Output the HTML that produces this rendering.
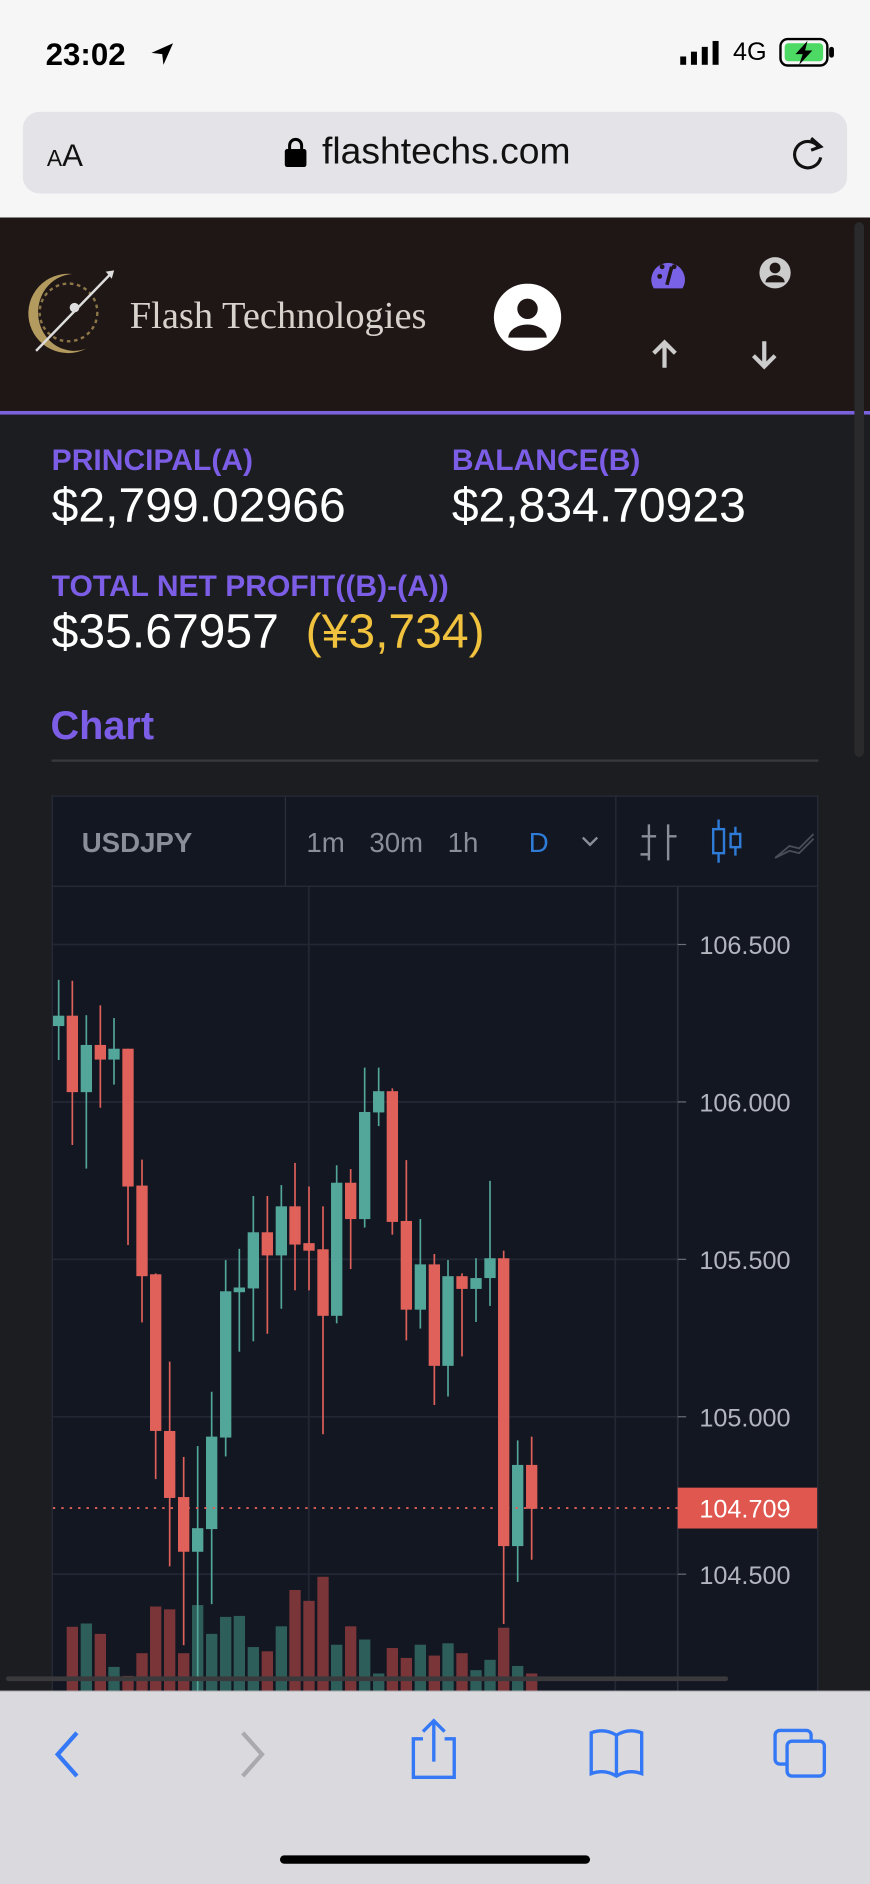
<!DOCTYPE html>
<html><head><meta charset="utf-8">
<style>
html,body{margin:0;padding:0;background:#1c1d20;}
body{width:870px;height:1884px;overflow:hidden;position:relative;}
#w{position:absolute;left:0;top:0;width:724px;height:1568px;transform:scale(1.20166);transform-origin:0 0;font-family:"Liberation Sans",sans-serif;background:#1c1d20;overflow:hidden;}
.a{position:absolute;white-space:nowrap;}
</style></head><body><div id="w">
<!-- top browser chrome -->
<div class="a" style="left:0;top:0;width:724px;height:181px;background:#f6f6f7;"></div>
<div class="a" style="left:38px;top:30px;font-size:26px;font-weight:bold;color:#000;">23:02</div>
<svg class="a" style="left:124px;top:34px" width="22" height="22" viewBox="0 0 22 22"><path d="M20 2 L2 10 L11 11 L12 20 Z" fill="#000"/></svg>
<svg class="a" style="left:566px;top:34px" width="34" height="20"><rect x="0" y="13" width="5" height="7" fill="#000"/><rect x="9" y="9" width="5" height="11" fill="#000"/><rect x="18" y="5" width="5" height="15" fill="#000"/><rect x="27" y="0" width="5" height="20" fill="#000"/></svg>
<div class="a" style="left:610px;top:32px;font-size:21px;color:#000;">4G</div>
<svg class="a" style="left:648px;top:31px" width="48" height="26"><rect x="1.5" y="1.5" width="39" height="22" rx="6" fill="none" stroke="#000" stroke-width="2"/><rect x="5" y="5" width="32" height="15" rx="3" fill="#4cd964"/><rect x="42" y="8" width="4" height="9" rx="2" fill="#000"/><path d="M24 3 L14 14 L20 14 L17 23 L28 11 L22 11 Z" fill="#000"/></svg>
<div class="a" style="left:19px;top:93px;width:686px;height:68px;border-radius:14px;background:#e3e3e8;"></div>
<div class="a" style="left:39px;top:114px;font-size:26px;color:#111;"><span style="font-size:19px">A</span>A</div>
<svg class="a" style="left:236px;top:113px" width="20" height="28"><rect x="1" y="11" width="18" height="15" rx="2" fill="#000"/><path d="M5 12 V8 a5 5 0 0 1 10 0 V12" fill="none" stroke="#000" stroke-width="2.5"/></svg>
<div class="a" style="left:268px;top:108px;font-size:31px;color:#111;">flashtechs.com</div>
<svg class="a" style="left:655px;top:111px" width="34" height="36"><path d="M26 11 A11 11 0 1 0 28 20" fill="none" stroke="#111" stroke-width="2.6"/><path d="M20 4 L28 11 L20 14" fill="none" stroke="#111" stroke-width="2.6"/></svg>
<!-- header -->
<div class="a" style="left:0;top:181px;width:724px;height:162px;background:#1f1716;"></div>
<div class="a" style="left:0;top:342px;width:724px;height:3px;background:#7a62dc;"></div>
<div class="a" style="left:711px;top:185px;width:8px;height:445px;background:#2a2a2c;border-radius:4px;"></div>
<svg class="a" style="left:20px;top:220px" width="80" height="80"><path d="M40 8 A33 33 0 1 0 52 70 A30 32 0 1 1 40 8 Z" fill="#b39a5e"/><circle cx="37" cy="40" r="24" fill="none" stroke="#8c7648" stroke-width="2" stroke-dasharray="3 3"/><path d="M10 72 L72 8" stroke="#ddd" stroke-width="2"/><path d="M68 6 L75 5 L73 12 Z" fill="#ddd"/><circle cx="42" cy="36" r="4" fill="#ddd"/></svg>
<div class="a" style="left:108px;top:244px;font-size:32px;color:#d8d2cc;font-family:'Liberation Serif',serif;">Flash Technologies</div>
<svg class="a" style="left:539px;top:212px" width="34" height="30"><path d="M5 28 A14 14 0 1 1 29 28 Z" fill="#7a62e6"/><circle cx="10" cy="18" r="2" fill="#1f1716"/><circle cx="12" cy="10" r="2" fill="#1f1716"/><circle cx="22" cy="10" r="2" fill="#1f1716"/><path d="M16 25 L20 10" stroke="#1f1716" stroke-width="3"/></svg>
<svg class="a" style="left:410px;top:236px" width="58" height="56"><circle cx="29" cy="28" r="28" fill="#fff"/><circle cx="29" cy="21" r="8.5" fill="#1f1716"/><path d="M13 45 A16 11 0 0 1 45 45 Z" fill="#1f1716"/></svg>
<svg class="a" style="left:631px;top:213px" width="28" height="28"><circle cx="14" cy="14" r="13" fill="#ccc"/><circle cx="14" cy="10" r="4.5" fill="#1f1716"/><path d="M6 22 A8 6 0 0 1 22 22 Z" fill="#1f1716"/></svg>
<svg class="a" style="left:540px;top:282px" width="26" height="26"><path d="M13 24 V4 M4 12 L13 3 L22 12" stroke="#ccc" stroke-width="3.5" fill="none"/></svg>
<svg class="a" style="left:623px;top:282px" width="26" height="26"><path d="M13 2 V22 M4 14 L13 23 L22 14" stroke="#ccc" stroke-width="3.5" fill="none"/></svg>
<!-- stats -->
<div class="a" style="left:43px;top:369px;font-size:25px;font-weight:bold;color:#7c5ee6;">PRINCIPAL(A)</div>
<div class="a" style="left:376px;top:369px;font-size:25px;font-weight:bold;color:#7c5ee6;">BALANCE(B)</div>
<div class="a" style="left:43px;top:399px;font-size:40px;color:#fff;">$2,799.02966</div>
<div class="a" style="left:376px;top:399px;font-size:40px;color:#fff;">$2,834.70923</div>
<div class="a" style="left:43px;top:474px;font-size:25px;font-weight:bold;color:#7c5ee6;">TOTAL NET PROFIT((B)-(A))</div>
<div class="a" style="left:43px;top:504px;font-size:40px;color:#fff;">$35.67957 <span style="color:#f0c23e;">&nbsp;(¥3,734)</span></div>
<div class="a" style="left:42px;top:585px;font-size:33px;font-weight:bold;color:#7c5ee6;">Chart</div>
<div class="a" style="left:43px;top:632px;width:638px;height:2px;background:#38393d;"></div>
<!-- chart widget -->
<div class="a" style="left:43px;top:662px;width:636px;height:760px;background:#131722;border:1px solid #2a2e39;"></div>
<div class="a" style="left:44px;top:737px;width:636px;height:1px;background:#2a2e39;"></div>
<div class="a" style="left:237px;top:663px;width:1px;height:74px;background:#2a2e39;"></div>
<div class="a" style="left:512px;top:663px;width:1px;height:74px;background:#2a2e39;"></div>
<div class="a" style="left:68px;top:688px;font-size:23px;font-weight:bold;color:#8a8e99;">USDJPY</div>
<div class="a" style="left:255px;top:688px;font-size:23px;color:#8a8e99;word-spacing:14px;">1m 30m 1h</div>
<div class="a" style="left:440px;top:688px;font-size:23px;color:#2f7bd8;">D</div>
<svg class="a" style="left:483px;top:694px" width="16" height="12"><path d="M2 3 L8 9 L14 3" stroke="#8a8e99" stroke-width="2" fill="none"/></svg>
<svg class="a" style="left:530px;top:682px" width="36" height="38"><path d="M10 4 V34 M3 29 H10 M26 4 V34 M26 14 H33 M4 14 H16" stroke="#8a8e99" stroke-width="2" fill="none"/></svg>
<svg class="a" style="left:590px;top:680px" width="32" height="40"><path d="M8 2 V38" stroke="#2f7bd8" stroke-width="2"/><rect x="3.5" y="10" width="9" height="20" fill="#131722" stroke="#2f7bd8" stroke-width="2"/><path d="M22 8 V32" stroke="#2f7bd8" stroke-width="2"/><rect x="18" y="14" width="8" height="11" fill="#131722" stroke="#2f7bd8" stroke-width="2"/></svg>
<svg class="a" style="left:643px;top:690px" width="36" height="26"><path d="M2 24 L14 14 L22 16 L34 4" stroke="#4a4e59" stroke-width="1.5" fill="none"/><path d="M2 24 L14 18 L22 20 L34 8" stroke="#4a4e59" stroke-width="1.5" fill="none"/></svg>
<svg class="a" style="left:0;top:0" width="724" height="1568">
<defs><clipPath id="c"><rect x="44" y="738" width="520" height="670"/></clipPath></defs>
<g stroke="#232734" stroke-width="1.5">
<line x1="44" y1="786" x2="564" y2="786"/><line x1="44" y1="917" x2="564" y2="917"/><line x1="44" y1="1048" x2="564" y2="1048"/><line x1="44" y1="1179" x2="564" y2="1179"/><line x1="44" y1="1310" x2="564" y2="1310"/>
<line x1="257" y1="738" x2="257" y2="1410"/><line x1="512" y1="738" x2="512" y2="1410"/>
</g>
<line x1="564" y1="738" x2="564" y2="1410" stroke="#2a2e39" stroke-width="1.5"/>
<g stroke="#6a6e79" stroke-width="1"><line x1="564" y1="786" x2="571" y2="786"/><line x1="564" y1="917" x2="571" y2="917"/><line x1="564" y1="1048" x2="571" y2="1048"/><line x1="564" y1="1179" x2="571" y2="1179"/><line x1="564" y1="1310" x2="571" y2="1310"/></g>
<g font-family="Liberation Sans, sans-serif" font-size="21" fill="#b2b5be">
<text x="582" y="794">106.500</text><text x="582" y="925">106.000</text><text x="582" y="1056">105.500</text><text x="582" y="1187">105.000</text><text x="582" y="1318">104.500</text></g>
<g clip-path="url(#c)"><g transform="translate(33.29,798.9) scale(0.2774,0.3927)">
<g fill="#7a3539">
<rect x="80" y="1413" width="34" height="160"/><rect x="164" y="1428" width="34" height="160"/><rect x="247" y="1517" width="34" height="160"/><rect x="289" y="1469" width="34" height="160"/><rect x="330" y="1370" width="34" height="220"/><rect x="372" y="1376" width="34" height="220"/><rect x="414" y="1469" width="34" height="160"/><rect x="665" y="1465" width="34" height="160"/><rect x="748" y="1335" width="34" height="260"/><rect x="790" y="1358" width="34" height="260"/><rect x="832" y="1307" width="34" height="260"/><rect x="915" y="1412" width="34" height="160"/><rect x="1040" y="1458" width="34" height="160"/><rect x="1082" y="1479" width="34" height="160"/><rect x="1166" y="1474" width="34" height="160"/><rect x="1249" y="1469" width="34" height="160"/><rect x="1374" y="1415" width="34" height="160"/><rect x="1458" y="1512" width="34" height="160"/>
</g>
<g fill="#2e5e5a">
<rect x="122" y="1406" width="34" height="160"/><rect x="205" y="1498" width="34" height="160"/><rect x="456" y="1367" width="34" height="220"/><rect x="498" y="1428" width="34" height="160"/><rect x="540" y="1392" width="34" height="160"/><rect x="581" y="1390" width="34" height="160"/><rect x="623" y="1456" width="34" height="160"/><rect x="707" y="1412" width="34" height="160"/><rect x="873" y="1451" width="34" height="160"/><rect x="957" y="1440" width="34" height="160"/><rect x="999" y="1512" width="34" height="160"/><rect x="1124" y="1451" width="34" height="160"/><rect x="1207" y="1448" width="34" height="160"/><rect x="1291" y="1505" width="34" height="160"/><rect x="1333" y="1483" width="34" height="160"/><rect x="1416" y="1496" width="34" height="160"/>
</g>
<g fill="#53a69a">
<rect x="53.5" y="42" width="5" height="170"/><rect x="39" y="118" width="34" height="22"/>
<rect x="136.5" y="117" width="5" height="325"/><rect x="122" y="180" width="34" height="100"/>
<rect x="219.5" y="123" width="5" height="141"/><rect x="205" y="188" width="34" height="23"/>
<rect x="470.5" y="1030" width="5" height="520"/><rect x="456" y="1204" width="34" height="50"/>
<rect x="512.5" y="915" width="5" height="450"/><rect x="498" y="1010" width="34" height="196"/>
<rect x="554.5" y="636" width="5" height="416"/><rect x="540" y="702" width="34" height="310"/>
<rect x="595.5" y="612" width="5" height="218"/><rect x="581" y="694" width="34" height="10"/>
<rect x="637.5" y="500" width="5" height="308"/><rect x="623" y="577" width="34" height="119"/>
<rect x="721.5" y="477" width="5" height="262"/><rect x="707" y="522" width="34" height="104"/>
<rect x="887.5" y="435" width="5" height="335"/><rect x="873" y="472" width="34" height="282"/>
<rect x="971.5" y="228" width="5" height="339"/><rect x="957" y="322" width="34" height="227"/>
<rect x="1013.5" y="228" width="5" height="124"/><rect x="999" y="278" width="34" height="45"/>
<rect x="1138.5" y="549" width="5" height="232"/><rect x="1124" y="645" width="34" height="96"/>
<rect x="1221.5" y="636" width="5" height="289"/><rect x="1207" y="670" width="34" height="190"/>
<rect x="1305.5" y="632" width="5" height="135"/><rect x="1291" y="674" width="34" height="23"/>
<rect x="1347.5" y="468" width="5" height="265"/><rect x="1333" y="632" width="34" height="42"/>
<rect x="1430.5" y="1018" width="5" height="300"/><rect x="1416" y="1070" width="34" height="172"/>
</g>
<g fill="#e0605a">
<rect x="94.5" y="44" width="5" height="348"/><rect x="80" y="118" width="34" height="162"/>
<rect x="178.5" y="96" width="5" height="217"/><rect x="164" y="180" width="34" height="31"/>
<rect x="261.5" y="188" width="5" height="416"/><rect x="247" y="188" width="34" height="292"/>
<rect x="303.5" y="423" width="5" height="345"/><rect x="289" y="478" width="34" height="192"/>
<rect x="344.5" y="664" width="5" height="436"/><rect x="330" y="666" width="34" height="332"/>
<rect x="386.5" y="851" width="5" height="434"/><rect x="372" y="998" width="34" height="142"/>
<rect x="428.5" y="1053" width="5" height="399"/><rect x="414" y="1138" width="34" height="116"/>
<rect x="679.5" y="500" width="5" height="292"/><rect x="665" y="577" width="34" height="49"/>
<rect x="762.5" y="430" width="5" height="270"/><rect x="748" y="522" width="34" height="81"/>
<rect x="804.5" y="480" width="5" height="220"/><rect x="790" y="600" width="34" height="16"/>
<rect x="846.5" y="522" width="5" height="483"/><rect x="832" y="613" width="34" height="141"/>
<rect x="929.5" y="443" width="5" height="212"/><rect x="915" y="472" width="34" height="77"/>
<rect x="1054.5" y="272" width="5" height="310"/><rect x="1040" y="278" width="34" height="277"/>
<rect x="1096.5" y="424" width="5" height="382"/><rect x="1082" y="553" width="34" height="188"/>
<rect x="1180.5" y="623" width="5" height="320"/><rect x="1166" y="645" width="34" height="215"/>
<rect x="1263.5" y="664" width="5" height="176"/><rect x="1249" y="670" width="34" height="27"/>
<rect x="1388.5" y="616" width="5" height="791"/><rect x="1374" y="632" width="34" height="610"/>
<rect x="1472.5" y="1010" width="5" height="261"/><rect x="1458" y="1070" width="34" height="93"/>
</g>
</g></g>
<line x1="44" y1="1255" x2="564" y2="1255" stroke="#e0605a" stroke-width="1.5" stroke-dasharray="2 5"/>
<rect x="564" y="1238" width="116" height="34" fill="#e0574f"/>
<text x="582" y="1263" font-family="Liberation Sans, sans-serif" font-size="21" fill="#fff">104.709</text>
<rect x="5" y="1395" width="601" height="4" rx="2" fill="#3a3a3c"/>
</svg>
<!-- bottom toolbar -->
<div class="a" style="left:0;top:1407px;width:724px;height:161px;background:#d9d9de;border-top:1px solid #bdbdc2;"></div>
<svg class="a" style="left:0;top:1430px" width="724" height="138">
<path d="M64 12 L48 30 L64 48" stroke="#3478f6" stroke-width="3.5" fill="none"/>
<path d="M202 12 L218 30 L202 48" stroke="#a9a9ae" stroke-width="3.5" fill="none"/>
<path d="M352 17 H344 V49 H378 V17 H370" stroke="#3478f6" stroke-width="2.8" fill="none"/><path d="M361 36 V3 M352 11 L361 2 L370 11" stroke="#3478f6" stroke-width="2.8" fill="none"/>
<path d="M492 12 Q503 8 513 14 Q523 8 534 12 V46 Q523 42 513 48 Q503 42 492 46 Z M513 14 V48" stroke="#3478f6" stroke-width="2.8" fill="none"/>
<rect x="645" y="10" width="30" height="28" rx="4" stroke="#3478f6" stroke-width="2.8" fill="none"/><rect x="655" y="19" width="31" height="29" rx="4" stroke="#3478f6" stroke-width="2.8" fill="#d9d9de"/>
<rect x="233" y="114" width="258" height="7" rx="3.5" fill="#000"/>
</svg>
</div></body></html>
